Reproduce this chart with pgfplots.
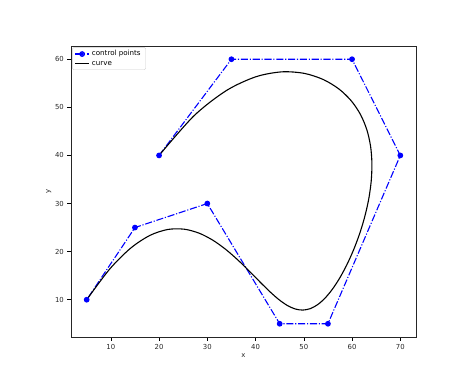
\documentclass[border=0pt]{standalone}
\usepackage{pgfplots}
\pgfplotsset{compat=1.18}
\usepackage{fontspec}
\setmainfont{DejaVu Sans}
\begin{document}
\begin{tikzpicture}
\useasboundingbox (-71bp,-42bp) rectangle (403bp,337bp);
\begin{axis}[
  scale only axis,
  width=345bp, height=291bp,
  xmin=1.75, xmax=73.25,
  ymin=2.25, ymax=62.75,
  xtick={10,20,30,40,50,60,70},
  ytick={10,20,30,40,50,60},
  tick align=outside,
  xtick pos=left, ytick pos=left,
  major tick length=3.6bp,
  tick style={black, line width=0.6bp},
  axis line style={black!85, line width=0.6bp},
  /pgf/number format/assume math mode=true,
  ticklabel style={font=\fontsize{6.9bp}{8bp}\selectfont, text=black!85},
  xlabel={x}, ylabel={y},
  label style={font=\fontsize{6.9bp}{8bp}\selectfont, text=black!85},
  xlabel style={yshift=2.5bp},
  ylabel style={yshift=-3bp},
  legend style={at={(0,1)}, anchor=north west, xshift=1.2bp, yshift=-1.2bp,
    draw=black!20, rounded corners=1.5bp, fill=white, fill opacity=0.8, text opacity=1,
    font=\fontsize{7.1bp}{8bp}\selectfont, inner xsep=2.5bp, inner ysep=2bp, row sep=1.2bp,
    nodes={inner xsep=2.6bp, inner ysep=1.2bp}},
  legend cell align=left,
  legend image code/.code={\draw[mark repeat=2,mark phase=2,#1] plot coordinates {(0bp,0bp) (6.7bp,0bp) (13.4bp,0bp)};},
]
\addplot[blue, line width=1.1bp, dash pattern=on 7.1bp off 1.8bp on 1.1bp off 1.8bp,
  mark=*, mark size=2.3bp, mark options={solid, fill=blue, draw=blue}]
  coordinates {(20,40) (35,60) (60,60) (70,40) (55,5) (45,5) (30,30) (15,25) (5,10)};
\addlegendentry{control points}
\addplot[black, line width=1.1bp, smooth, tension=0.5] coordinates {
(20,40) (27.250,48.252) (33.945,53.482) (40.014,56.337) (45.408,57.374) (50.094,57.059) (54.058,55.769) (57.306,53.790) (59.861,51.319)
(61.767,48.467) (63.074,45.301) (63.838,41.887) (64.115,38.294) (63.962,34.594) (63.439,30.861) (62.606,27.174) (61.528,23.611)
(60.266,20.257) (58.881,17.189) (57.419,14.476) (55.916,12.175) (54.395,10.331) (52.870,8.981) (51.339,8.149) (49.792,7.847)
(48.205,8.078) (46.551,8.825) (44.805,10.051) (42.943,11.693) (40.944,13.664) (38.791,15.857) (36.467,18.137) (33.958,20.347)
(31.255,22.309) (28.342,23.821) (25.202,24.665) (21.810,24.605) (18.134,23.388) (14.137,20.744) (9.775,16.383) (5,10)
};
\addlegendentry{curve}
\end{axis}
\end{tikzpicture}
\end{document}
